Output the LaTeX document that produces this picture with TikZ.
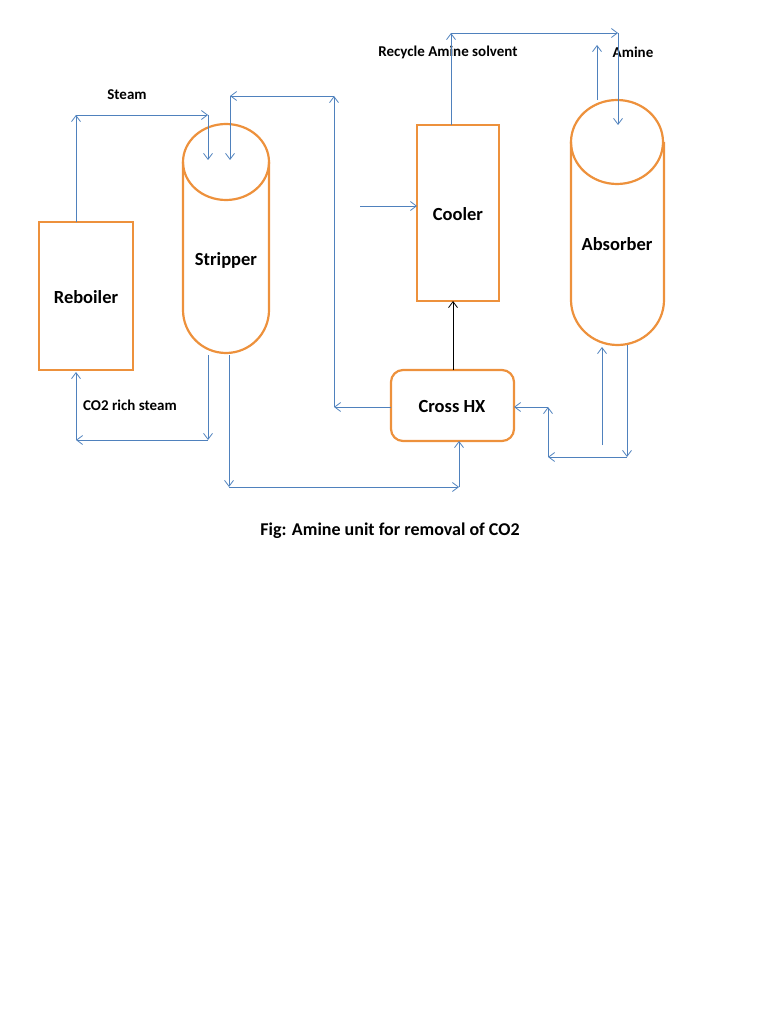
\documentclass[tikz,border=0pt]{standalone}
\usepackage{fontspec}
\setmainfont{Carlito}
\usetikzlibrary{arrows.meta}
\definecolor{org}{RGB}{237,145,60}
\definecolor{blu}{RGB}{79,129,189}
\begin{document}
\begin{tikzpicture}[x=1pt,y=-1pt,
 box/.style={draw=org,line width=2.2pt},
 fl/.style={draw=blu,line width=0.8pt,-{Straight Barb[length=6pt,width=9pt]}},
 lab/.style={font=\bfseries\fontsize{15}{18}\selectfont},
 nl/.style={font=\bfseries\fontsize{18.5}{22}\selectfont}]
\useasboundingbox (0,0) rectangle (768,1024);
% equipment
\draw[box] (39,222) rectangle (133,370);
\node[nl] (reb) at (86,297) {Reboiler};
\draw[box] (226,162) ellipse [x radius=43,y radius=38];
\draw[box] (183,162) -- (183,310) arc[start angle=180,end angle=0,x radius=43,y radius=43] -- (269,162);
\node[nl] (str) at (226,260) {Stripper};
\draw[box] (417,125) rectangle (499,301);
\node[nl] (coo) at (458,214) {Cooler};
\draw[box] (617,142) ellipse [x radius=46,y radius=42];
\draw[box] (571,142) -- (571,300) arc[start angle=180,end angle=0,x radius=46.5,y radius=45] -- (664,142);
\node[nl] (abs) at (617,244) {Absorber};
\draw[box,rounded corners=12pt] (391,370) rectangle (514,441);
\node[nl] (hx) at (452,406) {Cross HX};
% labels
\node[lab] at (127,95) {Steam};
\node[lab] at (448,52) {Recycle Amine solvent};
\node[lab] at (633,52) {Amine};
\node[lab] at (130,405) {CO2 rich steam};
\node[font=\bfseries\fontsize{18}{22}\selectfont] at (390,531) {Fig: Amine unit for removal of CO2};
% coordinates
\foreach \n/\p in {a1/{76,222},a2/{76,115},a3/{208,115},a4/{208,160},
 b1/{230,160},b2/{230,96},b3/{334,96},b4/{334,407},b5/{391,407},
 c1/{208,355},c2/{208,440},c3/{76,440},c4/{76,372},
 d1/{229,355},d2/{229,487},d3/{459,487},d4/{459,441},
 e1/{453,370},e2/{453,301},f1/{360,206},f2/{417,206},
 g1/{451,125},g2/{451,33},g3/{618,33},g4/{618,125},
 h1/{597,100},h2/{597,45},
 i1/{602,445},i2/{602,347},j1/{627,345},j2/{627,457},j3/{548,457},j4/{548,407},j5/{514,407}}
 \coordinate (\n) at (\p);
\draw[fl] (a1)--(a2); \draw[fl] (a2)--(a3); \draw[fl] (a3)--(a4);
\draw[fl] (b3)--(b2); \draw[fl] (b2)--(b1); \draw[fl] (b4)--(b3); \draw[fl] (b5)--(b4);
\draw[fl] (c1)--(c2); \draw[fl] (c2)--(c3); \draw[fl] (c3)--(c4);
\draw[fl] (d1)--(d2); \draw[fl] (d2)--(d3); \draw[fl] (d3)--(d4);
\draw[fl,draw=black] (e1)--(e2);
\draw[fl] (f1)--(f2);
\draw[fl] (g1)--(g2); \draw[fl] (g2)--(g3); \draw[fl] (g3)--(g4);
\draw[fl] (h1)--(h2);
\draw[fl] (i1)--(i2);
\draw[fl] (j1)--(j2); \draw[fl] (j2)--(j3); \draw[fl] (j3)--(j4); \draw[fl] (j4)--(j5);
\end{tikzpicture}
\end{document}
